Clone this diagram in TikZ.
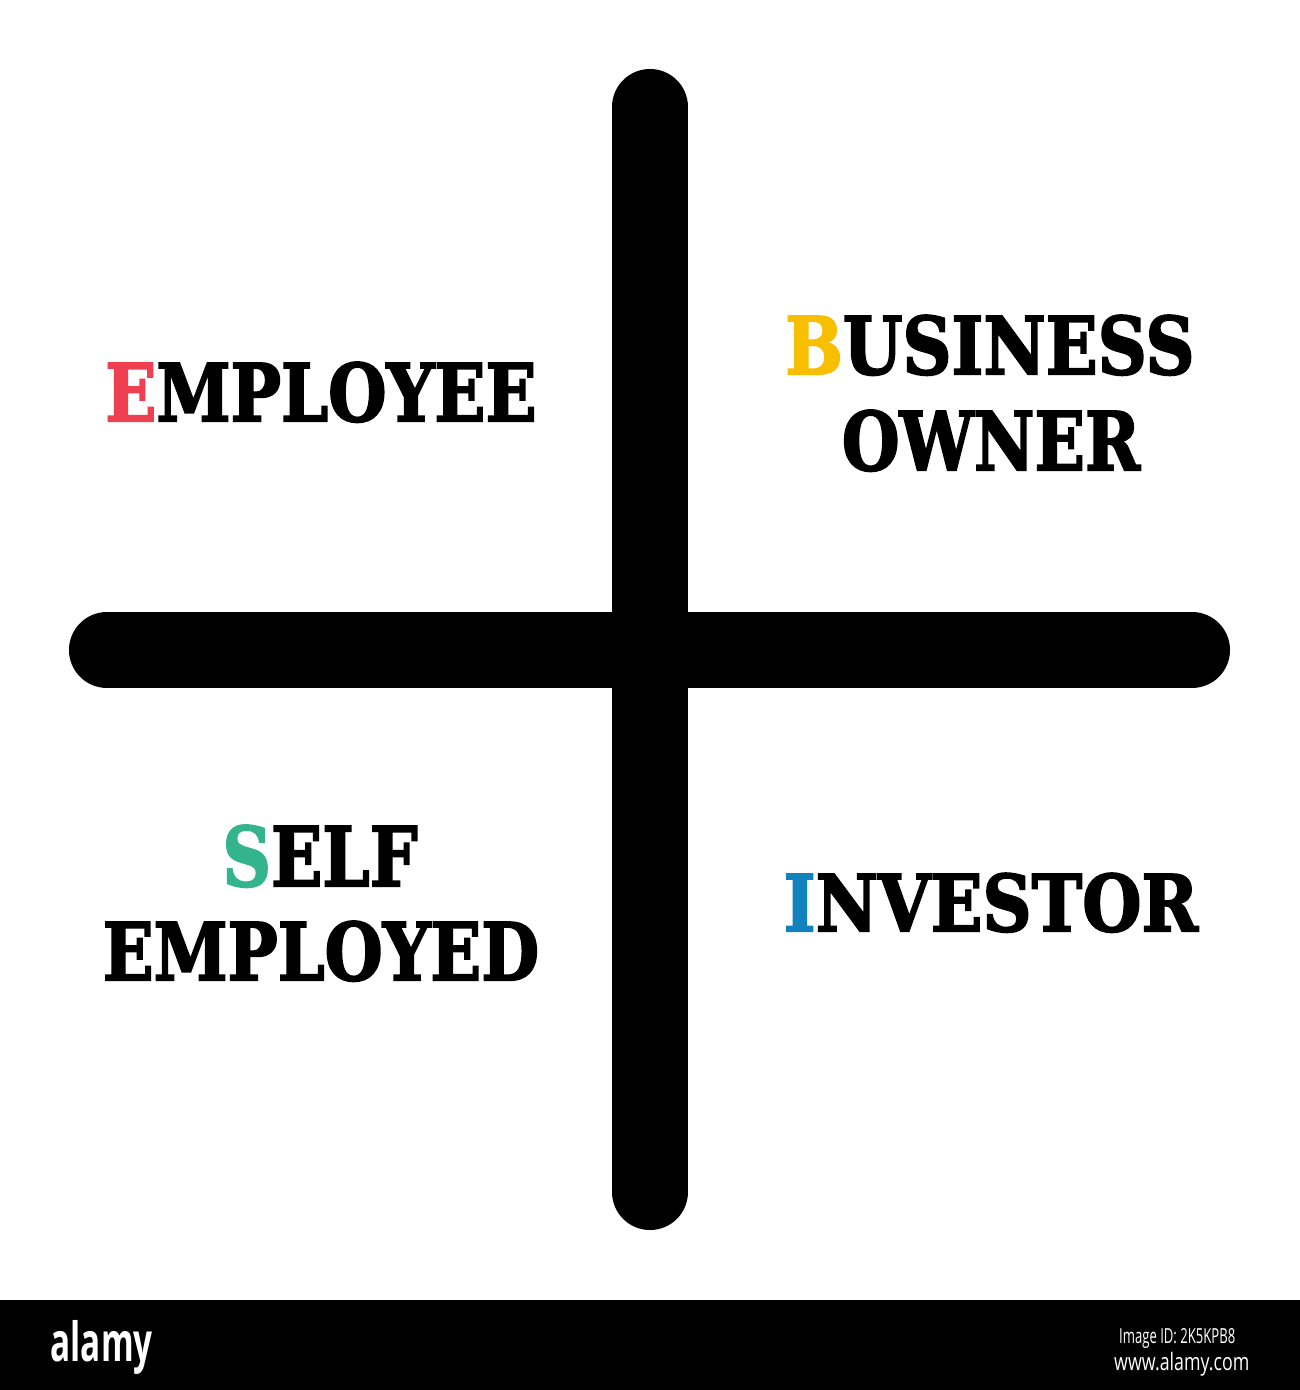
\documentclass[tikz,border=0pt]{standalone}
\usepackage{graphicx}
\usepackage{fontspec}
\setmainfont{DejaVu Serif}[BoldFeatures={FakeBold=2.5}]
\setsansfont{Open Sans}
\usepackage{tikz}

\definecolor{empred}{HTML}{EE4050}
\definecolor{busyellow}{HTML}{F8BE00}
\definecolor{selfgreen}{HTML}{33B48A}
\definecolor{invblue}{HTML}{1282BE}

\tikzset{
    bar/.style={line width=0.76cm, line cap=round, black},
    word/.style={inner sep=0pt, anchor=south},
    stripmark/.style={inner sep=0pt, text=white, font=\sffamily}
}
% word fitted to a width and cap height
\newcommand{\fitword}[3]{\resizebox{#1}{#2}{\bfseries #3}}

\begin{document}
\begin{tikzpicture}[x=0.01cm, y=-0.01cm]
        \useasboundingbox (0,0) rectangle (1300,1390);
        \fill[white] (0,0) rectangle (1300,1390);
        % the cross
        \draw[bar] (650,107) -- (650,1192);
        \draw[bar] (107,650) -- (1192,650);
        % quadrants
        \node[word] (employee) at (321,423) {\fitword{4.31cm}{0.59cm}{\textcolor{empred}{E}MPLOYEE}};
        \node[word] (business) at (990,376) {\fitword{4.09cm}{0.59cm}{\textcolor{busyellow}{B}USINESS}};
        \node[word] (owner) at (991,472) {\fitword{2.98cm}{0.60cm}{OWNER}};
        \node[word] (self) at (320,888) {\fitword{1.95cm}{0.61cm}{\textcolor{selfgreen}{S}ELF}};
        \node[word] (employed) at (321,982) {\fitword{4.36cm}{0.59cm}{EMPLOYED}};
        \node[word] (investor) at (991,933) {\fitword{4.14cm}{0.58cm}{\textcolor{invblue}{I}NVESTOR}};
        % strip at the bottom
        \fill[black] (0,1300) rectangle (1300,1390);
        \node[stripmark, anchor=north west] (logo) at (50,1320) {\resizebox*{1.02cm}{0.54cm}{\bfseries alamy}};
        \node[stripmark, anchor=north east] (imageid) at (1236,1328) {\resizebox*{1.16cm}{0.2cm}{Image ID: 2K5KPB8}};
        \node[stripmark, anchor=north east] (site) at (1250,1352) {\resizebox*{1.35cm}{0.24cm}{www.alamy.com}};
    \end{tikzpicture}
\end{document}
